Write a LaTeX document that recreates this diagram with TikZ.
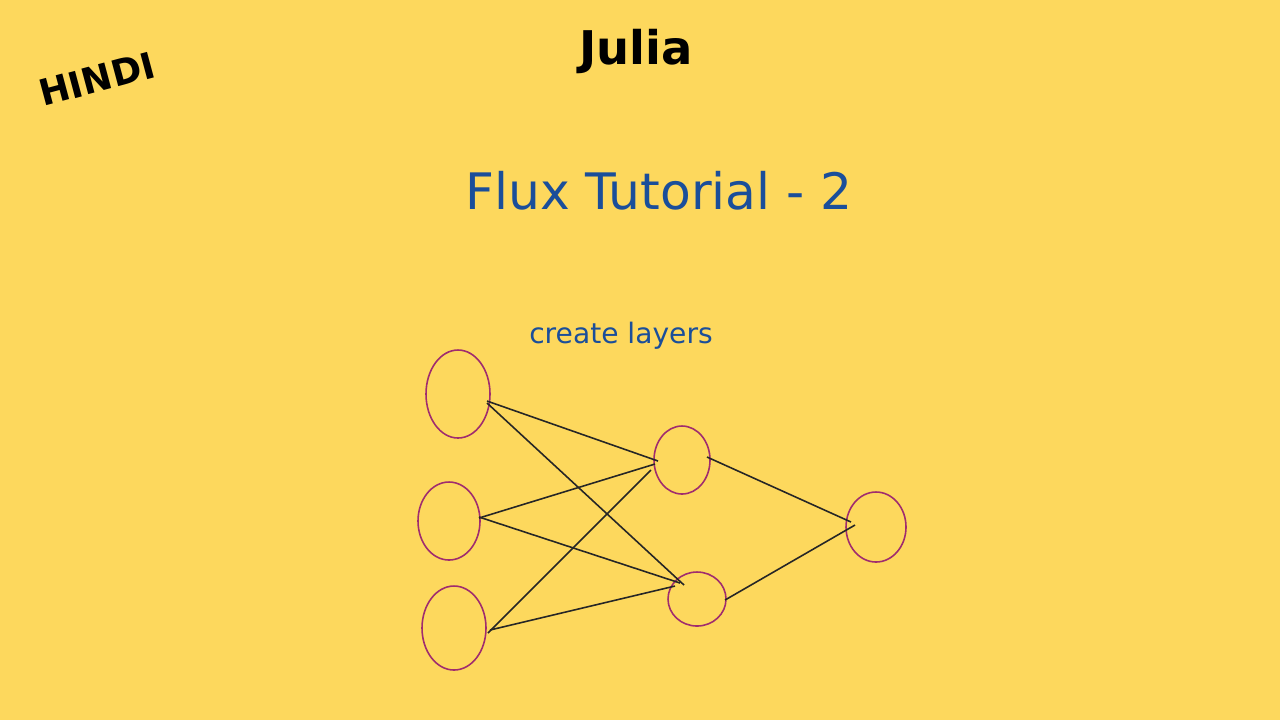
\documentclass[tikz,border=0pt]{standalone}
\usepackage{fontspec}
\setmainfont{DejaVu Sans}
\begin{document}
\begin{tikzpicture}[x=0.01cm,y=-0.01cm,
  neuron/.style={draw=nc,line width=0.45pt},
  wire/.style={draw=black!85,line width=0.45pt}]
\definecolor{bg}{HTML}{FDD85D}
\definecolor{nc}{HTML}{A02C6E}
\definecolor{tb}{HTML}{1A4E9A}
\fill[bg] (0,0) rectangle (1280,720);
\useasboundingbox (0,0) rectangle (1280,720);
\node[font=\bfseries\fontsize{13.2}{16}\selectfont] (t) at (636,51) {Julia};
\node[font=\bfseries\fontsize{10.3}{13}\selectfont,rotate=15] (h) at (97,79) {HINDI};
\node[text=tb,font=\fontsize{14.3}{18}\selectfont] (f) at (659,191) {Flux Tutorial - 2};
\node[text=tb,font=\fontsize{8}{10}\selectfont] (c) at (621,336) {create layers};
\draw[neuron] (458,394) ellipse [x radius=32,y radius=44];
\draw[neuron] (449,521) ellipse [x radius=31,y radius=39];
\draw[neuron] (454,628) ellipse [x radius=32,y radius=42];
\draw[neuron] (682,460) ellipse [x radius=28,y radius=34];
\draw[neuron] (697,599) ellipse [x radius=29,y radius=27];
\draw[neuron] (876,527) ellipse [x radius=30,y radius=35];
\coordinate (a1) at (487,401); \coordinate (d1) at (658,461);
\coordinate (a2) at (487,403); \coordinate (e1) at (684,585);
\coordinate (b1) at (479,518); \coordinate (d2) at (655,464);
\coordinate (b2) at (479,517); \coordinate (e2) at (680,583);
\coordinate (c1) at (488,633); \coordinate (d3) at (651,470);
\coordinate (c2) at (490,630); \coordinate (e3) at (675,586);
\coordinate (d4) at (707,457); \coordinate (f1) at (851,522);
\coordinate (e4) at (725,600); \coordinate (f2) at (855,525);
\draw[wire] (a1)--(d1); \draw[wire] (a2)--(e1);
\draw[wire] (b1)--(d2); \draw[wire] (b2)--(e2);
\draw[wire] (c1)--(d3); \draw[wire] (c2)--(e3);
\draw[wire] (d4)--(f1); \draw[wire] (e4)--(f2);
\end{tikzpicture}
\end{document}
